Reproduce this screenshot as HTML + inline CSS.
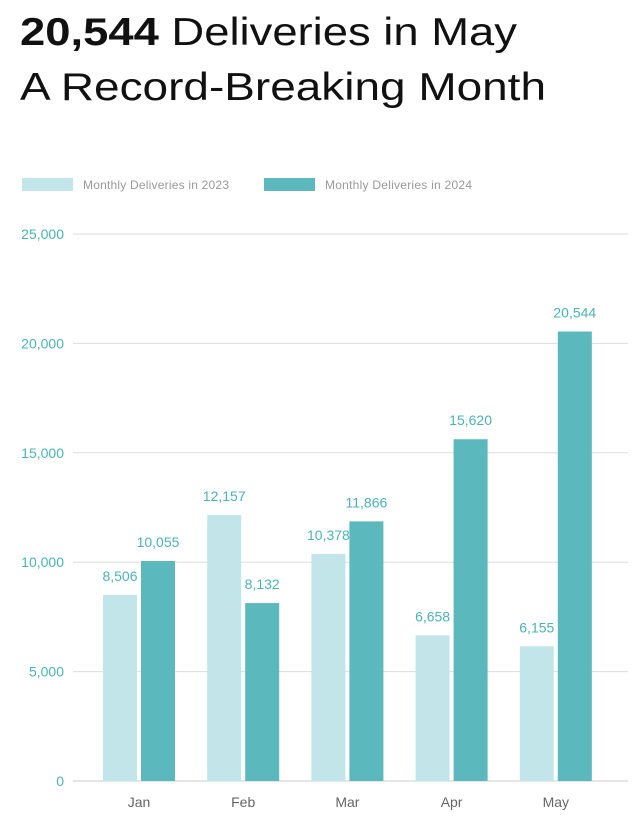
<!DOCTYPE html>
<html><head><meta charset="utf-8"><style>
body{margin:0;background:#fff;width:640px;height:819px;overflow:hidden;font-family:"Liberation Sans",sans-serif}
</style></head><body>
<svg width="640" height="819">
<text x="20" y="45" font-size="39" fill="#111" textLength="497" lengthAdjust="spacingAndGlyphs"><tspan font-weight="bold">20,544</tspan> Deliveries in May</text>
<text x="20" y="100" font-size="39" fill="#111" textLength="526" lengthAdjust="spacingAndGlyphs">A Record-Breaking Month</text>
<rect x="22" y="178" width="51" height="13" fill="#c1e5e8"/>
<text x="83" y="189" font-size="12" fill="#999" textLength="146">Monthly Deliveries in 2023</text>
<rect x="264" y="178" width="51" height="13" fill="#5bb8bc"/>
<text x="325" y="189" font-size="12" fill="#999" textLength="147">Monthly Deliveries in 2024</text>
<g id="plot"></g>
</svg>
<script>
const categories=["Jan","Feb","Mar","Apr","May"];
const values2023=[8506,12157,10378,6658,6155];
const values2024=[10055,8132,11866,15620,20544];
const yTicks=[0,5000,10000,15000,20000,25000];
const g=document.getElementById('plot');
const NS="http://www.w3.org/2000/svg";
const y=v=>781-v*547/25000;
const cx=i=>139+i*104.2;
function el(t,a,txt){const e=document.createElementNS(NS,t);for(const k in a)e.setAttribute(k,a[k]);if(txt!=null)e.textContent=txt;g.appendChild(e);return e;}
yTicks.forEach(v=>{
 const l=el('line',{x1:73,x2:628,y1:y(v),y2:y(v),stroke:v===0?'#ccc':'#ddd','stroke-width':1});
 
 
 const t=el('text',{x:64,y:y(v)+5,'text-anchor':'end','font-size':14,fill:'#4bb3b7'},v.toLocaleString('en-US'));
 
 
});
categories.forEach((c,i)=>{
 const x=cx(i);
 [[values2023[i],x-36,'#c1e5e8','bar-2023'],[values2024[i],x+2,'#5bb8bc','bar-2024']].forEach(([v,bx,col,nm])=>{
  const r=el('rect',{x:bx,y:y(v),width:34,height:781-y(v),fill:col});
  
  
  const t=el('text',{x:bx+17,y:y(v)-14,'text-anchor':'middle','font-size':14,fill:'#4bb3b7'},v.toLocaleString('en-US'));
  
  
 });
 const t=el('text',{x:x,y:807,'text-anchor':'middle','font-size':14,fill:'#666'},c);
 
 
});
</script>
</body></html>
